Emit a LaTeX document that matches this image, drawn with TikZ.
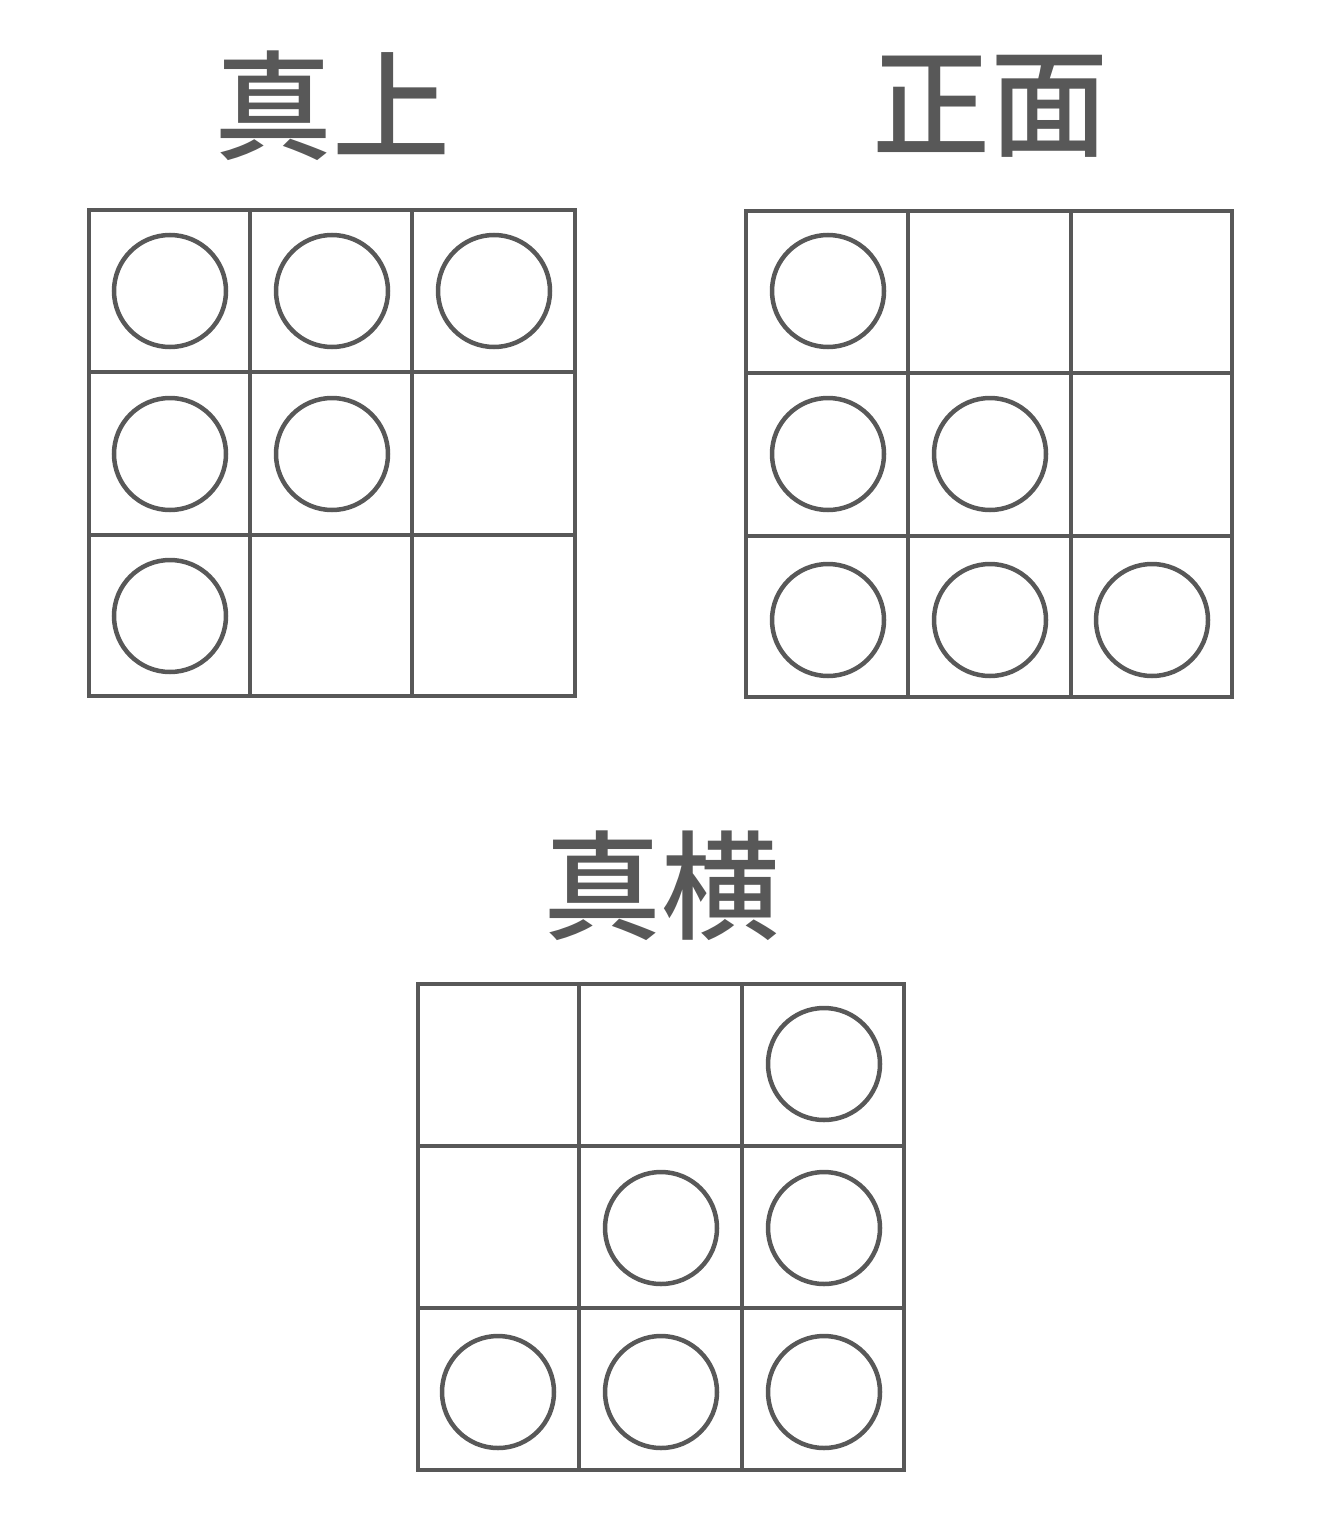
\documentclass[tikz,border=0pt]{standalone}
\usepackage{fontspec}
\newfontfamily\cjk{Noto Sans CJK JP Medium}
\definecolor{ink}{RGB}{88,88,88}
\begin{document}
\begin{tikzpicture}[x=1pt,y=-1pt,
  gridline/.style={draw=ink,line width=4.5pt},
  ball/.style={circle,draw=ink,line width=4.5pt,minimum size=112pt,inner sep=0pt},
  title/.style={text=ink,font=\cjk\fontsize{118}{118}\selectfont,inner sep=0pt}]
\useasboundingbox (0,0) rectangle (1322,1536);
% titles
\node[title] (t1) at (332,106) {真上};
\node[title] (t2) at (990,106) {正面};
\node[title] (t3) at (661,886) {真横};
% grid 1
\draw[gridline] (89,210) rectangle (575,696);
\draw[gridline] (250,210) -- (250,696) (412,210) -- (412,696)
  (89,372) -- (575,372) (89,535) -- (575,535);
\node[ball] (a1) at (170,291) {};
\node[ball] (a2) at (332,291) {};
\node[ball] (a3) at (494,291) {};
\node[ball] (a4) at (170,454) {};
\node[ball] (a5) at (332,454) {};
\node[ball] (a6) at (170,616) {};
% grid 2
\draw[gridline] (746,211) rectangle (1232,697);
\draw[gridline] (908,211) -- (908,697) (1071,211) -- (1071,697)
  (746,373) -- (1232,373) (746,536) -- (1232,536);
\node[ball] (b1) at (828,291) {};
\node[ball] (b2) at (828,454) {};
\node[ball] (b3) at (990,454) {};
\node[ball] (b4) at (828,620) {};
\node[ball] (b5) at (990,620) {};
\node[ball] (b6) at (1152,620) {};
% grid 3
\draw[gridline] (418,984) rectangle (904,1470);
\draw[gridline] (579,984) -- (579,1470) (742,984) -- (742,1470)
  (418,1146) -- (904,1146) (418,1308) -- (904,1308);
\node[ball] (c1) at (824,1064) {};
\node[ball] (c2) at (661,1228) {};
\node[ball] (c3) at (824,1228) {};
\node[ball] (c4) at (498,1392) {};
\node[ball] (c5) at (661,1392) {};
\node[ball] (c6) at (824,1392) {};
\end{tikzpicture}
\end{document}
